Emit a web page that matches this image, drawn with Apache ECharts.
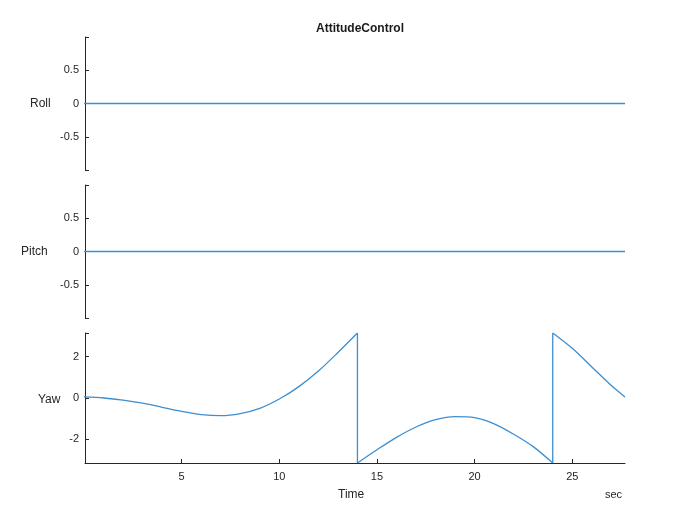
<!DOCTYPE html>
<html><head><meta charset="utf-8">
<script src="https://cdn.jsdelivr.net/npm/echarts@6/dist/echarts.min.js"></script>
<style>html,body{margin:0;padding:0;background:#fff}#c{width:688px;height:522px}</style>
</head><body><div id="c"></div>
<script>
const timeVals = [0,1,2,3,4,5,6,7,8,9,10,11,12,13,14,14,15,16,17,18,19,20,21,22,23,24,24,25,26,27,27.7];
const yawVals  = [0.05,0.0,-0.1,-0.25,-0.45,-0.65,-0.8,-0.85,-0.75,-0.5,-0.05,0.55,1.3,2.2,3.14,-3.14,-2.5,-1.9,-1.4,-1.05,-0.9,-0.95,-1.25,-1.75,-2.35,-3.14,3.14,2.4,1.5,0.6,0.05];
const rollVals = [[0,0],[27.7,0]];
const pitchVals = [[0,0],[27.7,0]];
const panelNames = ['Roll','Pitch','Yaw'];
const xTicks = [5,10,15,20,25];

const col = '#3d8fd1';
const font = 'Liberation Sans, Arial, sans-serif';
const grids = [
  {left:85, right:63, top:37, height:133},
  {left:85, right:63, top:185, height:133},
  {left:85, right:63, top:333, height:130}
];
const xAxes = [0,1,2].map(i=>({
  type:'value', gridIndex:i, min:0.05, max:27.7, interval:5,
  axisLine:{show:i===2, onZero:false, lineStyle:{color:'#262626'}},
  axisTick:{show:i===2, inside:true, length:4, customValues:xTicks, lineStyle:{color:'#262626'}},
  axisLabel:{show:i===2, color:'#262626', fontFamily:font, fontSize:11, customValues:xTicks, formatter:v=>String(v)},
  splitLine:{show:false}
}));
const yAx = (i,min,max,vals) => ({
  type:'value', gridIndex:i, min, max,
  axisLine:{show:true, lineStyle:{color:'#262626'}},
  axisTick:{show:true, inside:true, length:4, customValues:vals.concat([min,max]), lineStyle:{color:'#262626'}},
  axisLabel:{color:'#262626', fontFamily:font, fontSize:11, margin:6, customValues:vals, formatter:v=>String(v)},
  splitLine:{show:false}
});
const yAxes = [yAx(0,-1,1,[-0.5,0,0.5]), yAx(1,-1,1,[-0.5,0,0.5]), yAx(2,-3.14,3.14,[-2,0,2])];

const pts = timeVals.map((t,k)=>[t,yawVals[k]]);
const segs = [pts.slice(0,15), pts.slice(15,26), pts.slice(26)];

const chart = echarts.init(document.getElementById('c'));
chart.setOption({
  animation:false,
  title:{text:'AttitudeControl', left:355, top:18, textAlign:'center',
    textStyle:{fontFamily:font, fontSize:12, fontWeight:'bold', color:'#1a1a1a'}},
  graphic:[
    {type:'text', left:30, top:98, style:{text:panelNames[0], fontFamily:font, fontSize:12, fill:'#262626'}},
    {type:'text', left:21, top:246, style:{text:panelNames[1], fontFamily:font, fontSize:12, fill:'#262626'}},
    {type:'text', left:38, top:394, style:{text:panelNames[2], fontFamily:font, fontSize:12, fill:'#262626'}},
    {type:'text', left:338, top:489, style:{text:'Time', fontFamily:font, fontSize:12, fill:'#262626'}},
    {type:'text', left:605, top:489, style:{text:'sec', fontFamily:font, fontSize:11, fill:'#262626'}}
  ],
  grid:grids, xAxis:xAxes, yAxis:yAxes,
  series:[
    {type:'line', xAxisIndex:0, yAxisIndex:0, data:rollVals, showSymbol:false, lineStyle:{color:col, width:1.3}},
    {type:'line', xAxisIndex:1, yAxisIndex:1, data:pitchVals, showSymbol:false, lineStyle:{color:col, width:1.3}},
    ...segs.map(s=>({type:'line', xAxisIndex:2, yAxisIndex:2, data:s, showSymbol:false,
      smooth:0.3, lineStyle:{color:col, width:1.3}})),
    {type:'line', xAxisIndex:2, yAxisIndex:2, data:[pts[14],pts[15]], showSymbol:false, lineStyle:{color:col, width:1.3}},
    {type:'line', xAxisIndex:2, yAxisIndex:2, data:[pts[25],pts[26]], showSymbol:false, lineStyle:{color:col, width:1.3}}
  ]
});
</script></body></html>
